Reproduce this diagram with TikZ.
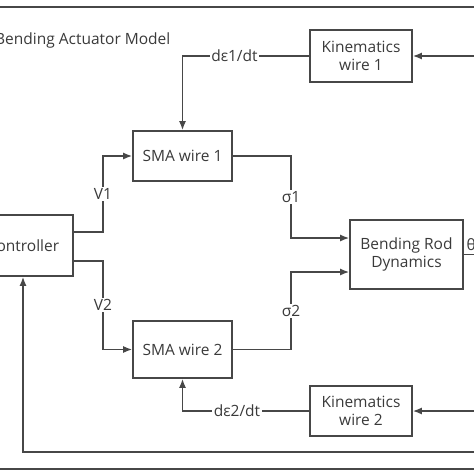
\documentclass[tikz,border=0pt]{standalone}
\usepackage{fontspec}
\setmainfont{Open Sans}
\usetikzlibrary{arrows.meta}
\definecolor{ln}{HTML}{474747}
\definecolor{tx}{HTML}{3A3A3A}
\tikzset{
  txt/.style={text=tx, font=\fontsize{15.5}{18.5}\selectfont},
  blk/.style={draw=ln, line width=1.6pt, fill=white, inner sep=0pt, align=center, txt},
  con/.style={draw=ln, line width=1.6pt},
  arr/.style={con, -{Latex[length=9pt,width=7pt]}},
  lbl/.style={fill=white, inner sep=1.5pt, txt},
}
\begin{document}
\begin{tikzpicture}[x=1pt,y=-1pt]
\useasboundingbox (0,0) rectangle (474,474);
\fill[white] (0,0) rectangle (474,474);
\clip (0,0) rectangle (474,474);
% outer frame
\draw[con] (-20,7) rectangle (494,469);
\node[anchor=west, txt, inner sep=0pt] (title) at (-5,40) {Bending Actuator Model};
% blocks
\node[blk, minimum width=100pt, minimum height=61pt] (ctrl) at (23,245.5) {Controller};
\node[blk, minimum width=99pt, minimum height=50pt] (sma1) at (182.5,156) {SMA wire 1};
\node[blk, minimum width=99pt, minimum height=57pt] (sma2) at (182.5,349.5) {SMA wire 2};
\node[blk, minimum width=102pt, minimum height=52pt] (kin1) at (361,56) {Kinematics\\wire 1};
\node[blk, minimum width=102pt, minimum height=50pt] (kin2) at (361,411) {Kinematics\\wire 2};
\node[blk, minimum width=113pt, minimum height=69pt] (rod) at (406.5,254.5) {Bending Rod\\Dynamics};
% free ends
\coordinate (in1) at (490,56);
\coordinate (in2) at (490,411);
\coordinate (out) at (490,254.5);
\coordinate (fb) at (490,452);
% connectors
\draw[arr] ([yshift=13.5pt]ctrl.east) -- (103,232) -- node[lbl]{V1} (103,156) -- (sma1.west);
\draw[arr] ([yshift=-15.5pt]ctrl.east) -- (103,261) -- node[lbl]{V2} (103,349.5) -- (sma2.west);
\draw[arr] (sma1.east) -- (291,156) -- node[lbl]{σ1} (291,238) -- ([yshift=16.5pt]rod.west);
\draw[arr] (sma2.east) -- (291,349.5) -- node[lbl]{σ2} (291,272) -- ([yshift=-17.5pt]rod.west);
\draw[arr] (kin1.west) -- node[lbl,pos=0.59]{dε1/dt} (182.5,56) -- (sma1.north);
\draw[arr] (kin2.west) -- node[lbl,pos=0.57]{dε2/dt} (182.5,411) -- (sma2.south);
\draw[arr] (in1) -- (kin1.east);
\draw[arr] (in2) -- (kin2.east);
\draw[con] (rod.east) -- (out);
\node[txt, inner sep=0pt, anchor=west] (theta) at (466.5,245) {θ};
\draw[arr] (fb) -- (23,452) -- (ctrl.south);
\end{tikzpicture}
\end{document}
